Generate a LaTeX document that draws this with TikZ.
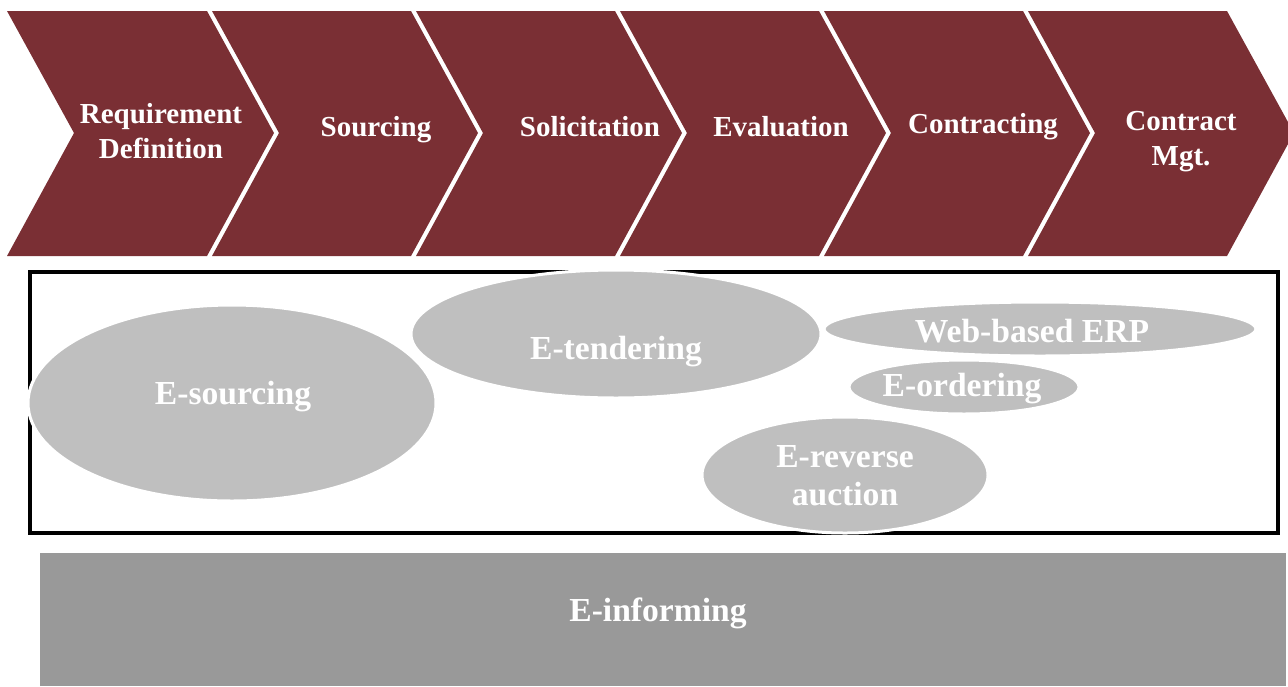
\documentclass[tikz,border=0pt]{standalone}
\usepackage{xcolor}
\usepackage{fontspec}
\setmainfont{Liberation Serif}
\usepackage{tikz}
\definecolor{wine}{RGB}{122,47,52}
\definecolor{bubblegray}{RGB}{191,191,191}
\definecolor{bargray}{RGB}{153,153,153}
\tikzset{
    stage/.style={fill=wine},
    stagetext/.style={text=white,font=\fontsize{14.5}{17.5}\selectfont\bfseries,align=center},
    bubble/.style={fill=bubblegray,draw=white,line width=1.5pt},
    bubbletext/.style={text=white,font=\fontsize{16.8}{19}\selectfont\bfseries,align=center}
}

\begin{document}
\begin{tikzpicture}[x=0.5pt,y=-0.5pt]
        \useasboundingbox (0,0) rectangle (1288,686);
        % process chevrons
        \fill[stage] (7,11) -- (207,11) -- (274,133) -- (207,256) -- (7,256) -- (74,133) -- cycle;
        \fill[stage] (212,11) -- (411,11) -- (478,133) -- (411,256) -- (212,256) -- (279,133) -- cycle;
        \fill[stage] (416,11) -- (615,11) -- (682,133) -- (615,256) -- (416,256) -- (483,133) -- cycle;
        \fill[stage] (620,11) -- (819,11) -- (886,133) -- (819,256) -- (620,256) -- (687,133) -- cycle;
        \fill[stage] (824,11) -- (1023,11) -- (1090,133) -- (1023,256) -- (824,256) -- (891,133) -- cycle;
        \fill[stage] (1028,11) -- (1227,11) -- (1294,133) -- (1227,256) -- (1028,256) -- (1095,133) -- cycle;
        \node[stagetext] (req) at (161,131) {Requirement\\Definition};
        \node[stagetext] (src) at (376,130) {Sourcing};
        \node[stagetext] (sol) at (590,127) {Solicitation};
        \node[stagetext] (eval) at (781,127) {Evaluation};
        \node[stagetext] (con) at (983,127) {Contracting};
        \node[stagetext] (cmgt) at (1181,142) {Contract\\Mgt.};
        % frame and tools
        \draw[line width=1.75pt] (30,272) rectangle (1278,533);
        \draw[bubble] (232,403) ellipse [x radius=204,y radius=98];
        \draw[bubble] (616,334) ellipse [x radius=205,y radius=64];
        \draw[bubble] (1040,329) ellipse [x radius=216,y radius=27];
        \draw[bubble] (964,387) ellipse [x radius=115,y radius=27];
        \draw[bubble] (845,475) ellipse [x radius=143,y radius=58];
        \node[bubbletext] (esrc) at (233,397) {E-sourcing};
        \node[bubbletext] (etend) at (616,352) {E-tendering};
        \node[bubbletext] (erp) at (1032,331) {Web-based ERP};
        \node[bubbletext] (eord) at (962,389) {E-ordering};
        \node[bubbletext] (erev) at (845,476) {E-reverse\\auction};
        % informing bar
        \fill[bargray] (40,553) rectangle (1286,686);
        \node[bubbletext] (einf) at (658,613) {E-informing};
    \end{tikzpicture}
\end{document}
